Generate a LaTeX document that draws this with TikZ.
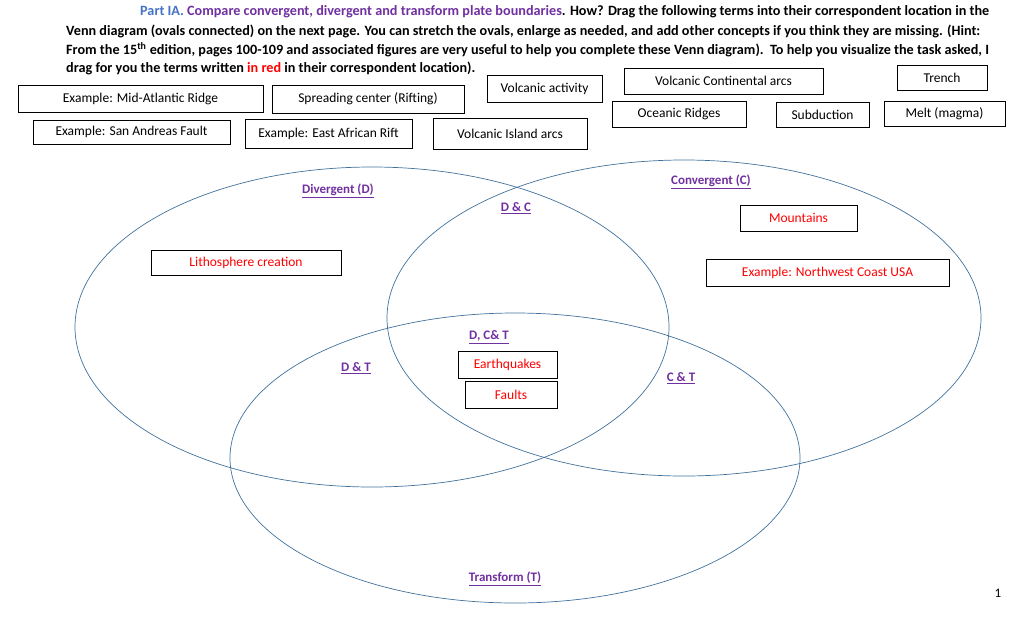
\documentclass[tikz,border=0pt]{standalone}
\usepackage{fontspec}
\setmainfont{Carlito}
\usetikzlibrary{positioning}
\definecolor{hblue}{HTML}{4472C4}
\definecolor{hpurp}{HTML}{7030A0}
\definecolor{ell}{HTML}{41719C}
\definecolor{rd}{HTML}{FF0000}
\begin{document}
\begin{tikzpicture}[x=1pt,y=-1pt,
  term/.style={draw,line width=0.8pt,inner sep=0pt,font=\fontsize{13.5}{15}\selectfont},
  hdr/.style={anchor=west,inner sep=0pt,font=\bfseries\fontsize{14.2}{16}\selectfont},
  lab/.style={inner sep=0pt,text=hpurp,font=\bfseries\fontsize{13}{15}\selectfont},
  ov/.style={draw=ell,line width=0.7pt}]
\useasboundingbox (0,0) rectangle (1024,640);
\node[hdr] (h1) at (140,12) {\textcolor{hblue}{Part IA. }\textcolor{hpurp}{Compare convergent, divergent and transform plate boundaries}. How? Drag the following terms into their correspondent location in the};
\node[hdr] (h2) at (66,31) {Venn diagram (ovals connected) on the next page. You can stretch the ovals, enlarge as needed, and add other concepts if you think they are missing. (Hint:};
\node[hdr] (h3) at (66,50) {From the 15\textsuperscript{th} edition, pages 100-109 and associated figures are very useful to help you complete these Venn diagram).\ \ To help you visualize the task asked, I};
\node[hdr] (h4) at (66,68) {drag for you the terms written \textcolor{rd}{in red} in their correspondent location).};
% ovals
\draw[ov] (372,327) ellipse [x radius=297,y radius=160];
\draw[ov] (684,318) ellipse [x radius=297,y radius=158];
\draw[ov] (515,458) ellipse [x radius=285,y radius=145];
% terms
\newcommand{\tbox}[6]{\node[term,minimum width=#4-#2,minimum height=#5-#3,#6] (#1) at ({(#2+#4)/2},{(#3+#5)/2+1})}
\tbox{t1}{18}{84}{263}{111}{}{Example: Mid-Atlantic Ridge};
\tbox{t2}{272}{84}{464}{112}{}{Spreading center (Rifting)};
\tbox{t3}{487}{74}{602}{101}{}{Volcanic activity};
\tbox{t4}{624}{67}{823}{93}{}{Volcanic Continental arcs};
\tbox{t5}{897}{64}{987}{89}{}{Trench};
\tbox{t6}{33}{119}{230}{143}{}{Example: San Andreas Fault};
\tbox{t7}{245}{118}{412}{147}{}{Example: East African Rift};
\tbox{t8}{433}{117}{587}{148}{}{Volcanic Island arcs};
\tbox{t9}{612}{100}{746}{126}{}{Oceanic Ridges};
\tbox{t10}{776}{101}{869}{126}{}{Subduction};
\tbox{t11}{884}{100}{1005}{125}{}{Melt (magma)};
\tbox{r1}{151}{249}{341}{274}{text=rd}{Lithosphere creation};
\tbox{r2}{740}{204}{857}{230}{text=rd}{Mountains};
\tbox{r3}{706}{258}{949}{285}{text=rd}{Example: Northwest Coast USA};
\tbox{r4}{458}{350}{557}{377}{text=rd}{Earthquakes};
\tbox{r5}{465}{380}{557}{407}{text=rd}{Faults};
% labels
\node[lab] (lD) at (338,191) {\underline{Divergent (D)}};
\node[lab] (lC) at (711,182) {\underline{Convergent (C)}};
\node[lab] (lDC) at (516,208) {\underline{D \& C}};
\node[lab] (lDCT) at (489,337) {\underline{D, C\& T}};
\node[lab] (lDT) at (356,368) {\underline{D \& T}};
\node[lab] (lCT) at (681,378) {\underline{C \& T}};
\node[lab] (lT) at (505,579) {\underline{Transform (T)}};
\node[inner sep=0pt,font=\fontsize{13}{15}\selectfont] (pg) at (998,593) {1};
\end{tikzpicture}
\end{document}
